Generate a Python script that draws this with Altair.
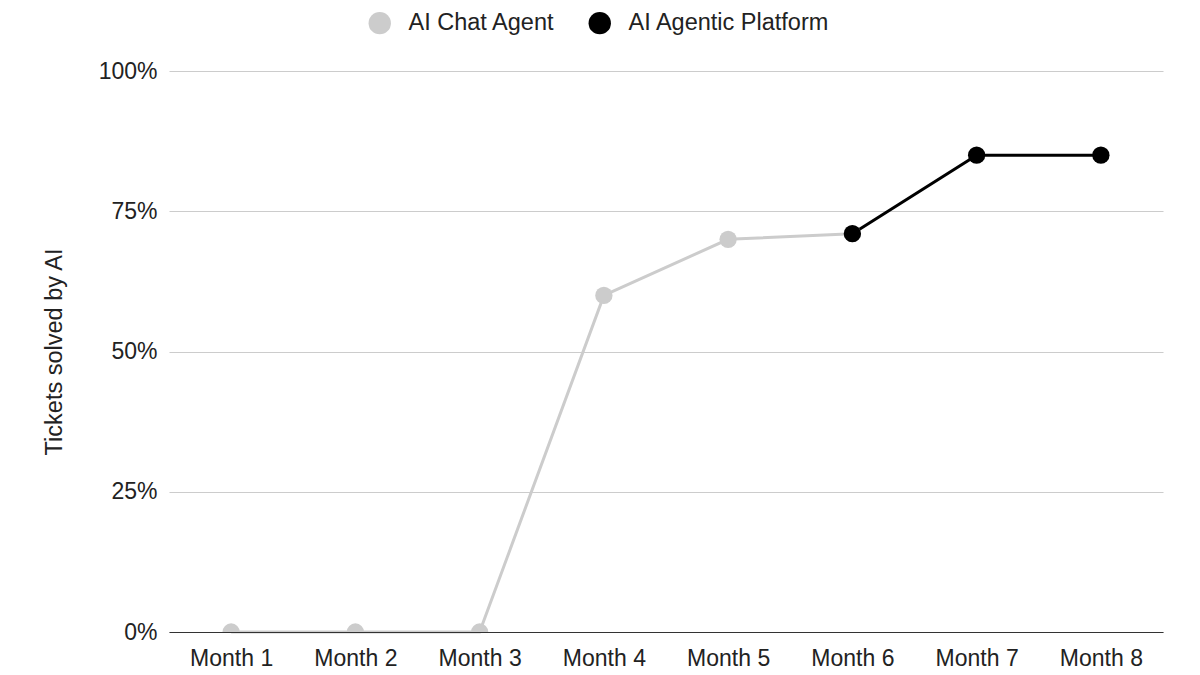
import altair as alt
import pandas as pd

months = ["Month 1", "Month 2", "Month 3", "Month 4", "Month 5", "Month 6", "Month 7", "Month 8"]
chat_months = ["Month 1", "Month 2", "Month 3", "Month 4", "Month 5", "Month 6"]
chat_values = [0, 0, 0, 0.60, 0.70, 0.71]
agentic_months = ["Month 6", "Month 7", "Month 8"]
agentic_values = [0.71, 0.85, 0.85]
series_names = ["AI Chat Agent", "AI Agentic Platform"]
series_colors = ["#cccccc", "#000000"]
y_ticks = [0, 0.25, 0.5, 0.75, 1]

rows = []
for m, v in zip(chat_months, chat_values):
    rows.append({"month": m, "value": v, "series": series_names[0]})
for m, v in zip(agentic_months, agentic_values):
    rows.append({"month": m, "value": v, "series": series_names[1]})
df = pd.DataFrame(rows)

FONT = "Liberation Sans"
TXT = "#222222"

x = alt.X("month:N", sort=months, scale=alt.Scale(type="point", padding=0.5, domain=months),
          axis=alt.Axis(title=None, labelAngle=0, labelFontSize=23, labelColor=TXT,
                        labelPadding=15, ticks=False, grid=False, domain=True,
                        domainColor="#333333", domainWidth=1.2, zindex=1, labelFont=FONT))
y = alt.Y("value:Q", scale=alt.Scale(domain=[0, 1], nice=False),
          axis=alt.Axis(title="Tickets solved by AI", format=".0%", values=y_ticks,
                        labelFontSize=23, labelColor=TXT, labelPadding=12, ticks=False,
                        domain=False, grid=True, gridColor="#cccccc", gridWidth=1.2,
                        titleFontSize=23.5, titleFontWeight="normal", titleColor=TXT,
                        titlePadding=32, labelFont=FONT, titleFont=FONT))
color = alt.Color("series:N", scale=alt.Scale(domain=series_names, range=series_colors),
                  legend=alt.Legend(title=None, orient="none", direction="horizontal",
                                    legendX=199, legendY=-60, symbolType="circle",
                                    symbolSize=500, symbolStrokeWidth=0, labelFontSize=23.5,
                                    labelColor=TXT, labelFont=FONT, columnPadding=33,
                                    symbolOpacity=1, labelOffset=17, labelLimit=400))

lines = alt.Chart(df).mark_line(strokeWidth=3).encode(x=x, y=y, color=color, detail="series:N")
points = alt.Chart(df).mark_point(filled=True, size=300, opacity=1, clip=True).encode(x=x, y=y, color=color)

chart = (lines + points).properties(
    width=994, height=561,
    autosize=alt.AutoSizeParams(type="none"),
    padding={"left": 161, "top": 63, "right": 20, "bottom": 40},
).configure(font=FONT).configure_view(stroke="transparent", strokeWidth=0)

chart.save("out.html", embed_options={"renderer": "svg", "actions": False})
